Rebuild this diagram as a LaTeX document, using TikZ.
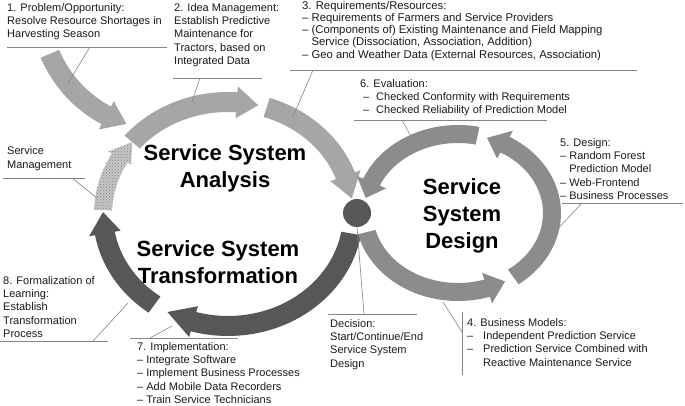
\documentclass[tikz,border=0pt]{standalone}
\usepackage{fontspec}
\setmainfont{Liberation Sans}
\usetikzlibrary{patterns}
\definecolor{gLight}{HTML}{A6A6A6}
\definecolor{gMid}{HTML}{8C8C8C}
\definecolor{gDark}{HTML}{575757}
\definecolor{gLine}{HTML}{858585}
\definecolor{txt}{HTML}{1A1A1A}
\newcommand\bw{10}
\newcommand\bh{16}
\newcommand\dashi{\makebox[16pt][l]{\hspace{3pt}–}}
% #1 style, #2 cx, #3 cy, #4 rx, #5 ry, #6 start angle, #7 head base angle, #8 tip angle
\newcommand\barrow[8]{%
  \pgfmathsetmacro\oxr{#4+\bw}%
  \pgfmathsetmacro\oyr{#5+\bw}%
  \pgfmathsetmacro\ixr{#4-\bw}%
  \pgfmathsetmacro\iyr{#5-\bw}%
  \pgfmathsetmacro\hox{#4+\bh}%
  \pgfmathsetmacro\hoy{#5+\bh}%
  \pgfmathsetmacro\hix{#4-\bh}%
  \pgfmathsetmacro\hiy{#5-\bh}%
  \path[#1,shift={(#2,#3)}] (#6:{\oxr} and {\oyr})
    arc[start angle=#6,end angle=#7,x radius=\oxr,y radius=\oyr]
    -- (#7:{\hox} and {\hoy}) -- (#8:{#4} and {#5}) -- (#7:{\hix} and {\hiy})
    -- (#7:{\ixr} and {\iyr})
    arc[start angle=#7,end angle=#6,x radius=\ixr,y radius=\iyr] -- cycle;%
}
\begin{document}
\begin{tikzpicture}[x=1pt,y=1pt,
  lbl/.style={anchor=north west, inner sep=0, align=left, font=\fontsize{11}{13.3}\selectfont, text=txt},
  title/.style={align=center, font=\fontsize{22}{27}\selectfont\bfseries, inner sep=0, text=black},
  uline/.style={draw=gLine, line width=0.8pt},
  leader/.style={draw=gLine, line width=0.6pt}]
\useasboundingbox (0,0) rectangle (685,405);
\fill[white] (0,0) rectangle (685,405);

% ---- left loop (analysis / transformation)
\renewcommand\bw{9}\renewcommand\bh{13}
\barrow{preaction={fill=gray!45}, pattern=crosshatch dots, pattern color=gray!95}{228}{191}{125}{112}{178}{150}{140}
\renewcommand\bw{10}\renewcommand\bh{16}
\barrow{fill=gLight}{165}{400}{125}{125}{203}{242}{252}
\barrow{fill=gLight}{228}{191}{125}{112}{140}{86}{76}
\barrow{fill=gLight}{228}{191}{125}{112}{72}{20}{8}
\barrow{fill=gDark}{228}{191}{125}{112}{-10}{-106}{-119}
\barrow{fill=gDark}{228}{191}{125}{112}{-126}{-170}{-181}

% ---- right loop (design)
\renewcommand\bw{9}\renewcommand\bh{16}
\barrow{fill=gMid}{458}{192}{94}{79}{194}{288}{300}
\barrow{fill=gMid}{458}{192}{94}{79}{-54}{60}{72}
\barrow{fill=gMid}{458}{192}{94}{79}{78}{157}{169}

% ---- decision dot
\node[circle, fill=gDark, minimum size=28pt, inner sep=0] (dot) at (357,192) {};

% ---- titles
\node[title] (tA) at (225,237) {Service System\\Analysis};
\node[title] (tT) at (218,143) {Service System\\Transformation};
\node[title] (tD) at (462,189) {Service\\System\\Design};

% ---- labels
\node[lbl] (l1) at (7,402) {1. Problem/Opportunity:\\Resolve Resource Shortages in\\Harvesting Season};
\node[lbl] (l2) at (174,402) {2. Idea Management:\\Establish Predictive\\Maintenance for\\Tractors, based on\\Integrated Data};
\node[lbl, font=\fontsize{11.3}{12.2}\selectfont] (l3) at (302,404) {3. Requirements/Resources:\\– Requirements of Farmers and Service Providers\\– (Components of) Existing Maintenance and Field Mapping\\\phantom{– }Service (Dissociation, Association, Addition)\\– Geo and Weather Data (External Resources, Association)};
\node[lbl] (l6) at (360,326) {6. Evaluation:\\\dashi Checked Conformity with Requirements\\\dashi Checked Reliability of Prediction Model};
\node[lbl] (l5) at (560,267) {5. Design:\\– Random Forest\\\phantom{– }Prediction Model\\– Web-Frontend\\– Business Processes};
\node[lbl] (l4) at (467,87) {4. Business Models:\\\makebox[16pt][l]{–}Independent Prediction Service\\\makebox[16pt][l]{–}Prediction Service Combined with\\\hspace*{16pt}Reactive Maintenance Service};
\node[lbl] (ld) at (330,86) {Decision:\\Start/Continue/End\\Service System\\Design};
\node[lbl] (l7) at (137,63) {7. Implementation:\\– Integrate Software\\– Implement Business Processes\\– Add Mobile Data Recorders\\– Train Service Technicians};
\node[lbl] (l8) at (3,129) {8. Formalization of\\Learning:\\Establish\\Transformation\\Process};
\node[lbl, font=\fontsize{11}{14.5}\selectfont] (lsm) at (7,259) {Service\\Management};

% ---- underlines
\draw[uline] (7,358) -- (167,358);
\draw[uline] (173,327) -- (262,327);
\draw[uline] (290,335) -- (637,335);
\draw[uline] (354,285) -- (547,285);
\draw[uline] (562,202) -- (683,202);
\draw[uline] (462,93) -- (462,30);
\draw[uline] (328,91) -- (417,91);
\draw[uline] (130,67) -- (238,67);
\draw[uline] (0,64) -- (108,64);
\draw[uline] (3,227) -- (85,227);

% ---- leaders
\coordinate (a1) at (90,358);  \coordinate (b1) at (68,322);
\coordinate (a2) at (200,327); \coordinate (b2) at (192,303);
\coordinate (a3) at (313,335); \coordinate (b3) at (293,288);
\coordinate (a6) at (402,285); \coordinate (b6) at (413,265);
\coordinate (a5) at (582,202); \coordinate (b5) at (552,170);
\coordinate (a4) at (462,73);  \coordinate (b4) at (443,103);
\coordinate (ad) at (364,91);
\coordinate (a7) at (150,67);  \coordinate (b7) at (172,79);
\coordinate (a8) at (93,64);   \coordinate (b8) at (128,102);
\coordinate (as) at (72,227);  \coordinate (bs) at (97,207);
\draw[leader] (a1) -- (b1);
\draw[leader] (a2) -- (b2);
\draw[leader] (a3) -- (b3);
\draw[leader] (a6) -- (b6);
\draw[leader] (a5) -- (b5);
\draw[leader] (a4) -- (b4);
\draw[leader] (ad) -- (dot.south);
\draw[leader] (a7) -- (b7);
\draw[leader] (a8) -- (b8);
\draw[leader] (as) -- (bs);
\end{tikzpicture}
\end{document}
